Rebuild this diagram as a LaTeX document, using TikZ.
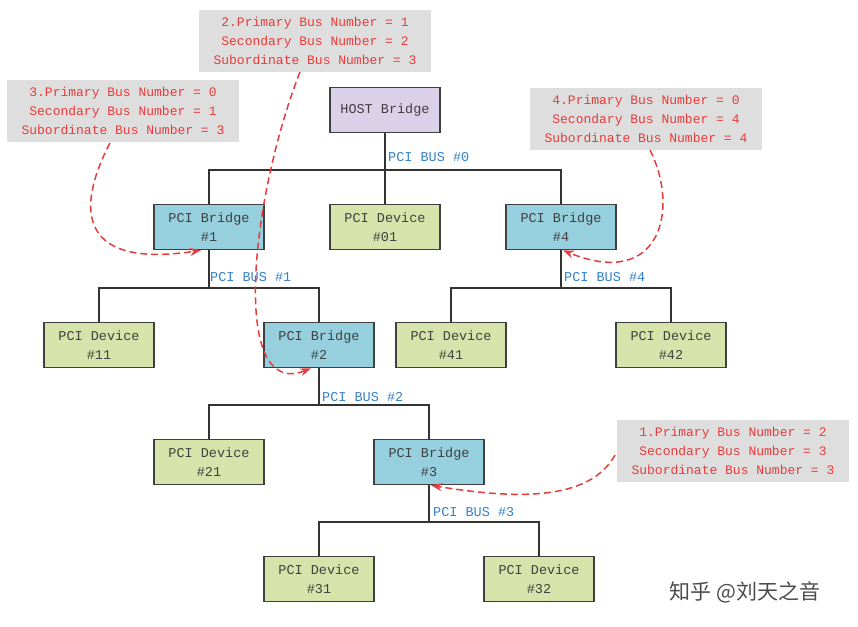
\documentclass[tikz,border=0pt]{standalone}
\usepackage{fontspec}
\setmainfont{Liberation Mono}
\newfontfamily\cjk{Noto Sans CJK SC}
\usetikzlibrary{arrows.meta}
\definecolor{hostc}{RGB}{218,208,232}
\definecolor{bridgec}{RGB}{150,208,222}
\definecolor{devc}{RGB}{214,228,172}
\definecolor{busc}{RGB}{50,130,205}
\definecolor{notec}{RGB}{232,60,60}
\definecolor{notebg}{RGB}{222,222,222}
\tikzset{
  box/.style={draw=black!75, line width=1.6pt, minimum width=110pt, minimum height=45pt, inner sep=0pt, align=center, text=black!75, font=\fontsize{13.5}{19}\selectfont},
  host/.style={box, fill=hostc},
  bridge/.style={box, fill=bridgec},
  dev/.style={box, fill=devc},
  wire/.style={black!80, line width=1.5pt},
  bus/.style={text=busc, font=\fontsize{13.5}{14}\selectfont, anchor=west, inner sep=1pt},
  note/.style={fill=notebg, text=notec, align=center, minimum width=232pt, minimum height=62pt, inner sep=0pt, font=\fontsize{13}{19}\selectfont},
  arr/.style={notec, dash pattern=on 7pt off 4pt, line width=1.5pt, -{Stealth[length=11pt,width=8pt]}}
}
\begin{document}
\begin{tikzpicture}[x=1pt,y=-1pt]
\useasboundingbox (0,0) rectangle (858,626);
% boxes
\node[host] (host) at (385,110) {HOST Bridge};
\node[bridge] (br1) at (209,227) {PCI Bridge\\\#1};
\node[dev] (dev01) at (385,227) {PCI Device\\\#01};
\node[bridge] (br4) at (561,227) {PCI Bridge\\\#4};
\node[dev] (dev11) at (99,345) {PCI Device\\\#11};
\node[bridge] (br2) at (319,345) {PCI Bridge\\\#2};
\node[dev] (dev41) at (451,345) {PCI Device\\\#41};
\node[dev] (dev42) at (671,345) {PCI Device\\\#42};
\node[dev] (dev21) at (209,462) {PCI Device\\\#21};
\node[bridge] (br3) at (429,462) {PCI Bridge\\\#3};
\node[dev] (dev31) at (319,579) {PCI Device\\\#31};
\node[dev] (dev32) at (539,579) {PCI Device\\\#32};
% buses
\coordinate (b0) at (385,170);
\coordinate (b1) at (209,288);
\coordinate (b4) at (561,288);
\coordinate (b2) at (319,405);
\coordinate (b3) at (429,522);
\draw[wire] (host.south)--(b0) (br1.north)|-(b0) (dev01.north)--(b0) (br4.north)|-(b0);
\draw[wire] (br1.south)--(b1) (dev11.north)|-(b1) (br2.north)|-(b1);
\draw[wire] (br4.south)--(b4) (dev41.north)|-(b4) (dev42.north)|-(b4);
\draw[wire] (br2.south)--(b2) (dev21.north)|-(b2) (br3.north)|-(b2);
\draw[wire] (br3.south)--(b3) (dev31.north)|-(b3) (dev32.north)|-(b3);
\node[bus] (l0) at (387,157) {PCI BUS \#0};
\node[bus] (l1) at (209,277) {PCI BUS \#1};
\node[bus] (l4) at (563,277) {PCI BUS \#4};
\node[bus] (l2) at (321,397) {PCI BUS \#2};
\node[bus] (l3) at (432,512) {PCI BUS \#3};
% notes
\node[note] (n2) at (315,41) {2.Primary Bus Number = 1\\Secondary Bus Number = 2\\Subordinate Bus Number = 3};
\node[note] (n3) at (123,111) {3.Primary Bus Number = 0\\Secondary Bus Number = 1\\Subordinate Bus Number = 3};
\node[note] (n4) at (646,119) {4.Primary Bus Number = 0\\Secondary Bus Number = 4\\Subordinate Bus Number = 4};
\node[note] (n1) at (733,451) {1.Primary Bus Number = 2\\Secondary Bus Number = 3\\Subordinate Bus Number = 3};
\draw[arr] (110,143) .. controls (80,200) and (70,270) .. ([xshift=-8pt]br1.south);
\draw[arr] (300,72) .. controls (250,200) and (230,400) .. ([xshift=-8pt]br2.south);
\draw[arr] (650,150) .. controls (680,210) and (660,290) .. ([xshift=2pt]br4.south);
\draw[arr] (615,455) .. controls (590,500) and (520,500) .. ([xshift=2pt]br3.south);
% watermark
\node[text=black!70, font=\cjk\fontsize{21}{22}\selectfont] (wm) at (745,592) {知乎 @刘天之音};
\end{tikzpicture}
\end{document}
